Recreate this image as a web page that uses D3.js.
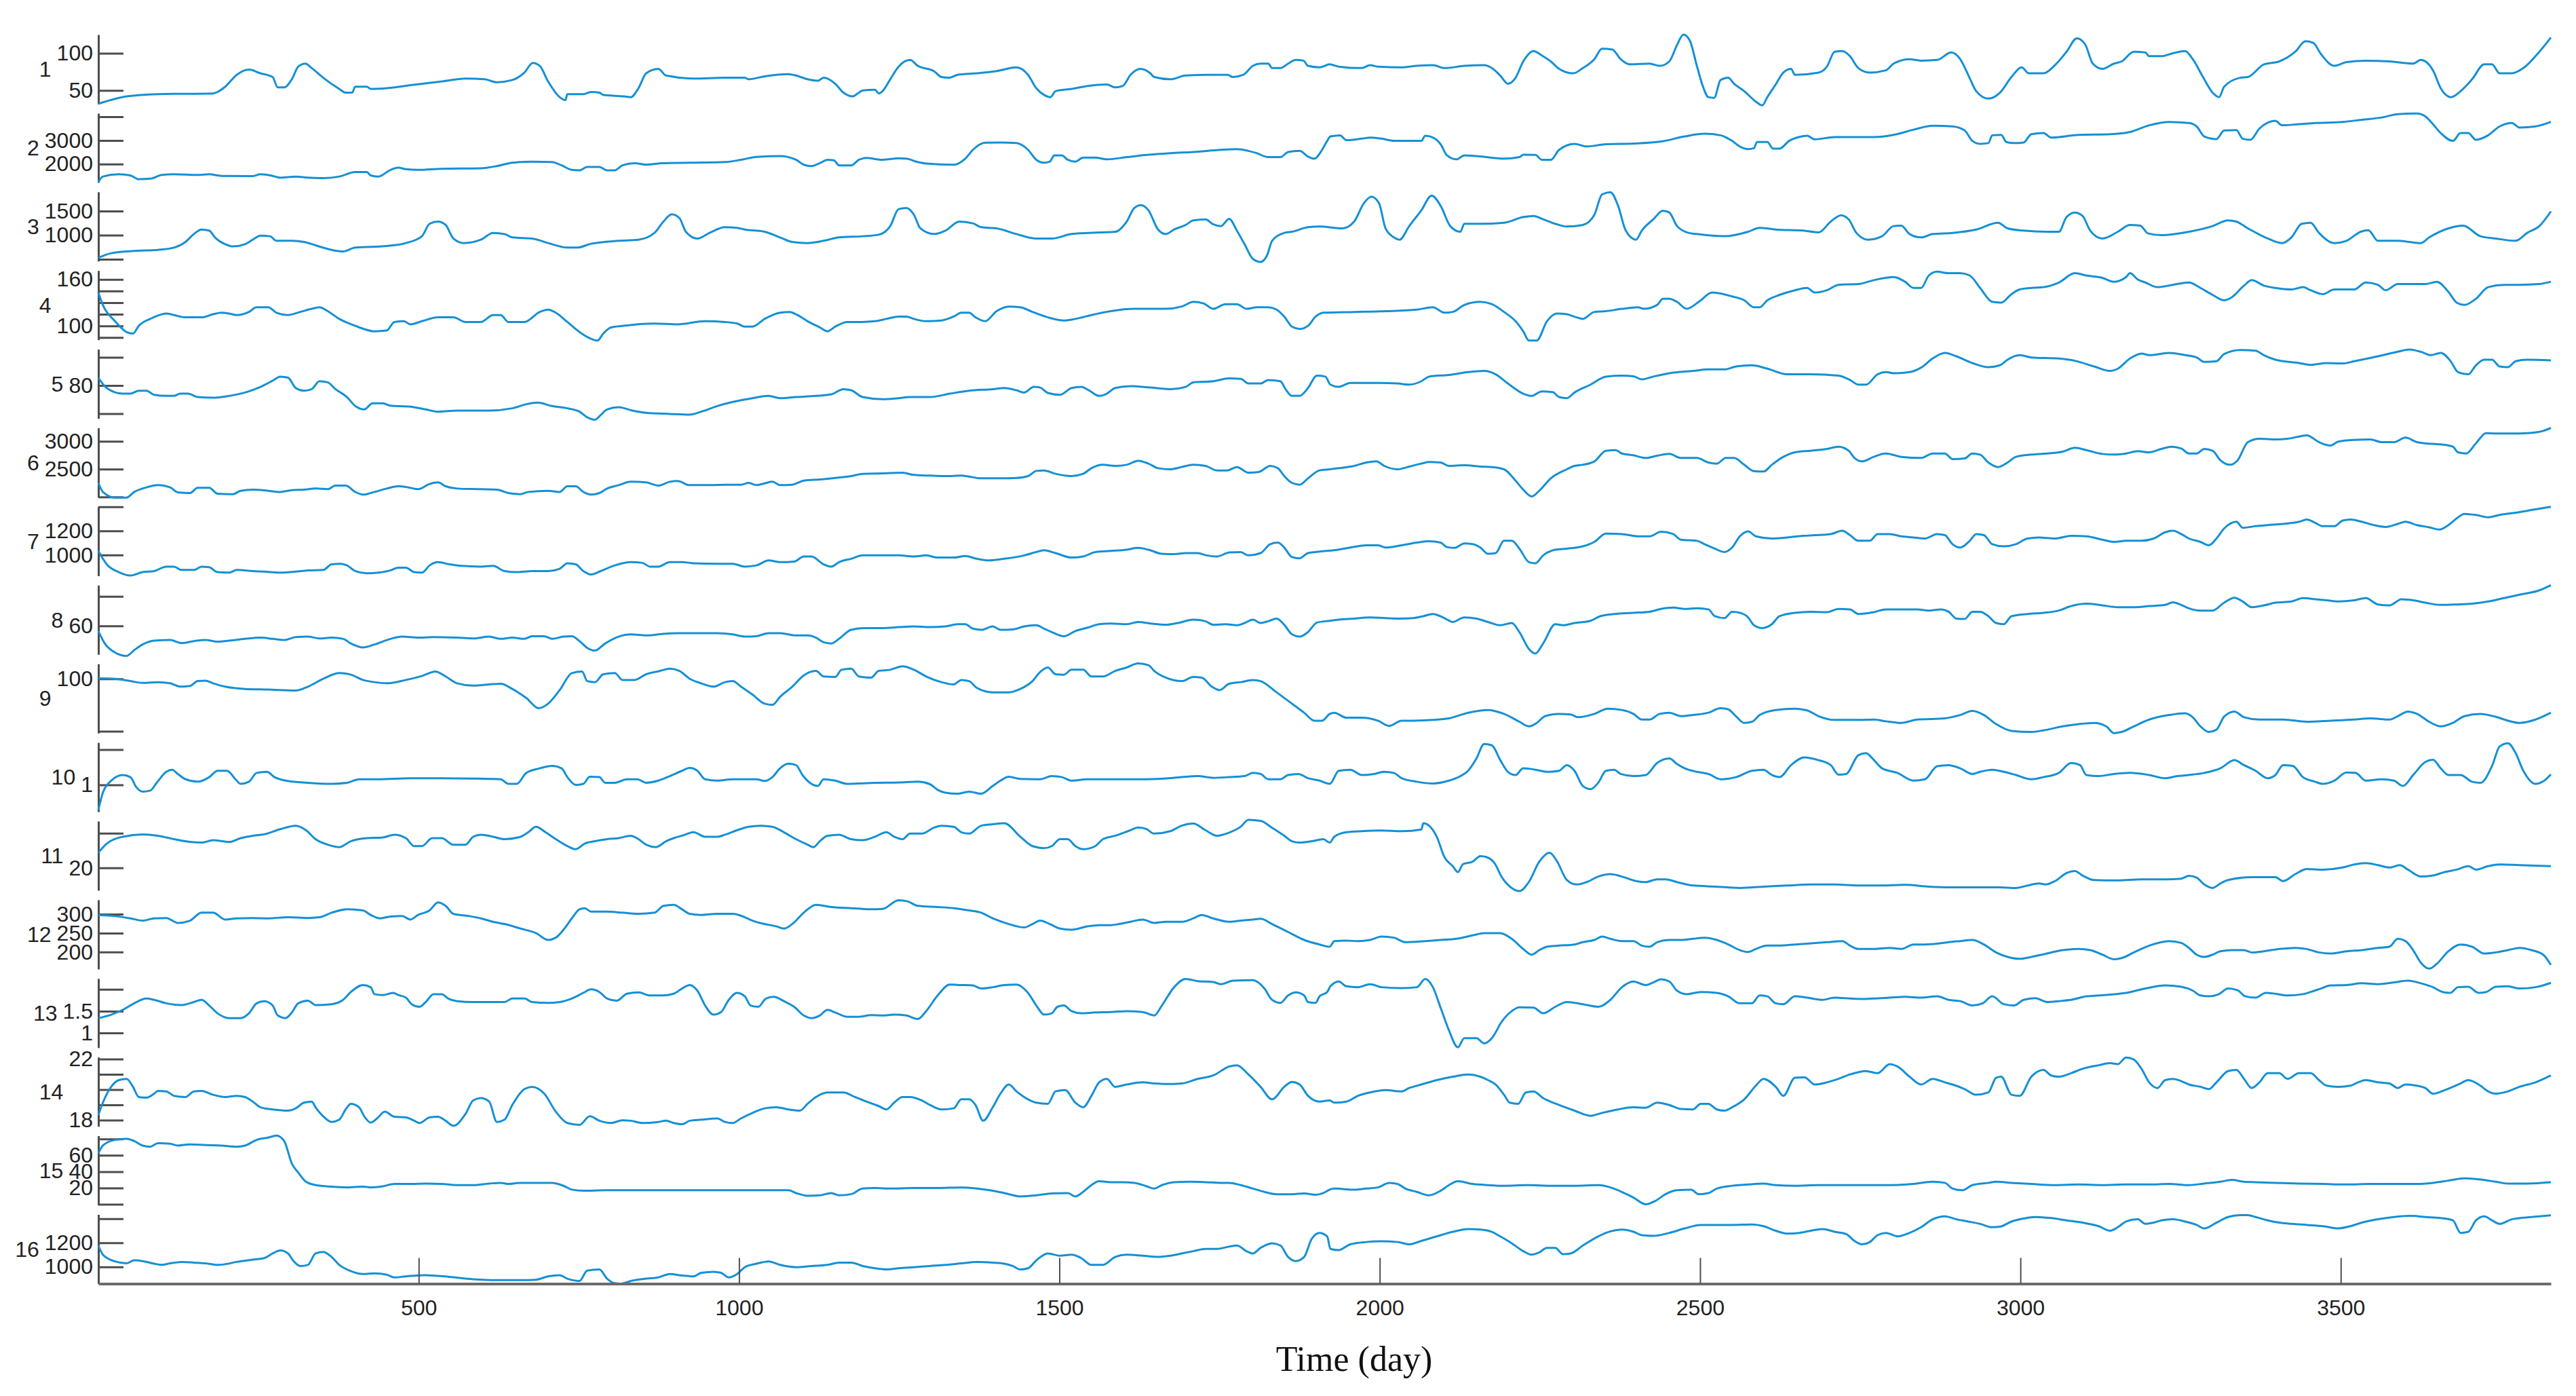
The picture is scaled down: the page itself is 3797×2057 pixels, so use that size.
<!DOCTYPE html>
<html>
<head>
<meta charset="utf-8">
<script src="https://cdn.jsdelivr.net/npm/d3@7"></script>
<style>
  body { margin: 0; background: #fff; }
  svg { display: block; }
</style>
</head>
<body>
<svg id="chart"></svg>
<script>
// 16 stacked daily series, each [day, value]
const s1 = [[0,32],[44,42],[93,45],[179,46],[186,48],[198,55],[216,71],[235,78],[253,73],[272,68],[280,54],[290,54],[302,65],[312,82],[323,86],[333,80],[351,67],[376,52],[386,47],[396,47],[401,55],[419,55],[425,52],[450,53],[487,57],[536,62],[573,66],[603,65],[622,61],[646,64],[665,74],[678,87],[689,83],[702,62],[720,41],[729,37],[732,45],[757,45],[769,48],[782,47],[788,44],[821,42],[831,41],[843,53],[855,73],[874,79],[886,70],[929,66],[978,67],[1009,67],[1015,65],[1040,69],[1077,72],[1089,70],[1107,65],[1123,63],[1132,67],[1150,59],[1163,47],[1177,42],[1187,47],[1193,50],[1212,51],[1218,46],[1224,49],[1236,65],[1249,82],[1267,91],[1279,83],[1304,76],[1316,68],[1328,67],[1341,71],[1371,73],[1402,76],[1433,81],[1451,71],[1464,53],[1476,44],[1486,41],[1494,49],[1519,52],[1544,56],[1574,58],[1587,54],[1599,56],[1611,71],[1627,79],[1642,73],[1648,68],[1673,65],[1697,70],[1740,71],[1762,71],[1771,68],[1787,71],[1802,83],[1814,86],[1826,86],[1832,80],[1845,80],[1857,86],[1869,91],[1881,90],[1888,83],[1906,81],[1922,85],
  [1936,82],[1972,80],[1985,84],[1997,82],[2034,81],[2058,83],[2083,84],[2101,80],[2132,83],[2163,84],[2175,80],[2188,70],[2200,59],[2212,67],[2224,89],[2240,103],[2253,97],[2267,89],[2280,79],[2302,73],[2317,80],[2335,92],[2347,106],[2363,105],[2376,92],[2390,85],[2421,86],[2437,83],[2452,89],[2464,111],[2474,125],[2484,117],[2495,83],[2503,59],[2513,41],[2522,40],[2532,64],[2544,67],[2553,59],[2569,49],[2587,35],[2597,30],[2605,41],[2618,58],[2630,74],[2642,79],[2648,71],[2685,74],[2698,82],[2710,102],[2722,103],[2734,96],[2747,80],[2765,74],[2790,77],[2802,86],[2827,92],[2845,90],[2870,91],[2892,101],[2906,92],[2919,70],[2931,49],[2950,39],[2968,47],[2986,68],[3002,81],[3013,73],[3036,73],[3054,84],[3072,102],[3088,120],[3101,112],[3113,86],[3128,79],[3146,86],[3158,89],[3177,102],[3195,101],[3201,96],[3220,96],[3238,100],[3257,103],[3269,92],[3285,68],[3300,47],[3310,41],[3318,55],[3343,67],[3355,68],[3380,85],[3404,89],[3429,102],[3445,116],[3457,114],[3469,99],[3490,83],[3509,88],[3539,90],[3576,89],[3613,86],[3625,91],[3644,77],[3656,53],[3672,41],[3687,49],[3705,65],[3724,85],[3736,85],[3748,73],[3767,73],[3785,80],[3810,102],[3828,121]];

const s2 = [[0,1237],[7,1472],[32,1567],[50,1520],[63,1359],[81,1380],[99,1538],[118,1567],[155,1538],[173,1567],[192,1500],[241,1490],[253,1567],[272,1500],[284,1425],[308,1472],[327,1425],[351,1406],[376,1472],[401,1661],[419,1661],[425,1520],[437,1472],[456,1755],[468,1849],[480,1783],[499,1755],[536,1802],[597,1821],[622,1915],[646,2057],[677,2104],[708,2085],[723,1944],[739,1755],[751,1736],[763,1878],[782,1878],[794,1736],[806,1736],[818,1944],[837,2038],[855,1972],[880,2038],[929,2057],[978,2085],[1003,2180],[1027,2302],[1064,2340],[1089,2180],[1101,1972],[1113,1915],[1126,2038],[1138,2180],[1148,2161],[1156,1944],[1175,1944],[1187,2180],[1199,2255],[1224,2180],[1249,2246],[1261,2227],[1279,2085],[1292,2019],[1335,1972],[1353,2227],[1365,2604],[1384,2906],[1408,2915],[1433,2887],[1451,2604],[1464,2180],[1476,2057],[1485,2104],[1492,2368],[1504,2368],[1513,2180],[1525,2104],[1537,2274],[1556,2274],[1574,2199],[1605,2293],[1636,2387],[1673,2462],[1709,2510],[1752,2604],[1777,2632],[1795,2557],[1808,2462],[1826,2293],[1845,2293],[1857,2510],[1875,2557],[1888,2321],[1898,2227],[1910,2604],[1918,2981],
  [1923,3170],[1938,3217],[1948,3009],[1972,3075],[1985,3123],[2003,3075],[2022,2981],[2065,2981],[2071,3198],[2083,3123],[2095,2840],[2105,2368],[2120,2198],[2132,2368],[2157,2321],[2194,2227],[2218,2293],[2224,2396],[2243,2387],[2253,2180],[2267,2180],[2280,2604],[2304,2858],[2323,2745],[2353,2840],[2396,2868],[2439,2953],[2476,3170],[2507,3283],[2532,3217],[2550,2981],[2562,2745],[2575,2632],[2584,2670],[2589,2934],[2605,2934],[2614,2651],[2624,2651],[2639,2981],[2655,3151],[2667,3198],[2679,3047],[2710,3142],[2771,3142],[2802,3236],[2833,3453],[2863,3623],[2894,3594],[2913,3424],[2925,2981],[2937,2858],[2950,2887],[2956,3217],[2970,3236],[2978,2934],[2990,2887],[3005,2915],[3017,3264],[3036,3311],[3048,3123],[3091,3236],[3140,3264],[3171,3358],[3201,3641],[3232,3783],[3263,3736],[3275,3594],[3287,3170],[3306,3057],[3318,3424],[3337,3434],[3347,3075],[3359,3028],[3373,3500],[3398,3830],[3408,3641],[3435,3688],[3460,3736],[3503,3783],[3533,3877],[3564,3971],[3589,4113],[3619,4141],[3632,4019],[3644,3688],[3656,3311],[3675,2981],[3687,3311],[3699,3311],[3711,3028],[3730,3217],[3748,3594],[3767,3736],[3779,3547],[3804,3594],[3828,3783]];

const s3 = [[0,531],[20,625],[56,672],[93,695],[118,742],[136,859],[149,1023],[161,1117],[173,1094],[182,953],[198,812],[210,766],[229,812],[241,906],[253,991],[268,977],[278,883],[302,883],[321,859],[339,789],[364,695],[382,662],[401,742],[450,775],[480,836],[505,977],[517,1235],[530,1281],[542,1211],[554,930],[570,836],[597,906],[616,1047],[634,1023],[646,953],[677,930],[702,836],[732,742],[747,742],[769,822],[812,883],[843,906],[868,1047],[882,1281],[895,1431],[907,1352],[917,1070],[935,930],[954,1047],[978,1164],[997,1150],[1009,1117],[1040,1070],[1064,953],[1083,859],[1107,836],[1132,883],[1156,953],[1193,977],[1218,1009],[1236,1188],[1249,1539],[1261,1563],[1273,1422],[1283,1141],[1304,1023],[1322,1094],[1344,1281],[1365,1244],[1378,1164],[1402,1141],[1433,1023],[1464,930],[1488,930],[1519,1023],[1562,1056],[1587,1070],[1605,1281],[1617,1563],[1627,1624],[1639,1516],[1654,1117],[1666,1023],[1679,1117],[1697,1211],[1709,1305],[1728,1328],[1740,1225],[1752,1188],[1765,1338],[1777,1094],[1789,812],[1802,508],[1814,445],[1824,578],[1832,883],[1851,1047],[1863,1070],[1888,1164],[1906,1178],
  [1942,1141],[1960,1281],[1975,1657],[1987,1797],[1999,1657],[2009,1141],[2022,953],[2031,906],[2046,1188],[2065,1516],[2081,1821],[2095,1610],[2110,1188],[2126,1070],[2132,1235],[2157,1235],[2194,1258],[2224,1375],[2240,1399],[2255,1328],[2274,1235],[2292,1178],[2317,1211],[2335,1422],[2347,1844],[2360,1891],[2372,1610],[2384,1094],[2400,906],[2409,1094],[2427,1328],[2442,1507],[2452,1469],[2464,1188],[2482,1047],[2495,1023],[2538,977],[2575,1070],[2593,1150],[2618,1117],[2661,1094],[2685,1056],[2704,1281],[2720,1413],[2732,1328],[2744,1047],[2762,906],[2784,977],[2802,1188],[2814,1197],[2827,1023],[2845,953],[2863,1023],[2894,1047],[2931,1117],[2965,1258],[2980,1141],[3005,1094],[3042,1070],[3060,1070],[3072,1375],[3085,1469],[3097,1399],[3109,1094],[3128,930],[3152,1070],[3171,1211],[3187,1197],[3199,1037],[3220,1000],[3263,1070],[3300,1188],[3324,1305],[3337,1281],[3355,1141],[3386,930],[3408,836],[3423,953],[3439,1235],[3453,1258],[3466,1047],[3490,836],[3509,883],[3531,1070],[3543,1103],[3558,883],[3589,883],[3607,859],[3625,836],[3638,953],[3668,1141],[3691,1197],[3718,977],[3742,930],[3773,883],[3791,1047],[3810,1188],[3828,1492]];

const s4 = [[0,143],[7,127],[26,106],[44,92],[54,90],[63,100],[81,109],[106,116],[118,114],[136,111],[161,111],[179,115],[192,117],[204,116],[216,114],[235,118],[247,124],[265,124],[278,117],[296,114],[315,118],[333,122],[345,124],[358,119],[376,109],[401,100],[431,93],[450,94],[462,105],[477,106],[487,102],[505,106],[530,111],[554,111],[573,105],[597,105],[616,114],[628,114],[640,105],[665,105],[689,118],[702,121],[714,117],[732,105],[751,92],[767,84],[779,81],[788,90],[800,98],[818,100],[868,103],[904,102],[947,106],[978,105],[997,103],[1009,99],[1021,99],[1040,109],[1064,117],[1079,118],[1091,114],[1107,106],[1126,98],[1138,93],[1150,99],[1169,105],[1187,105],[1212,106],[1230,109],[1249,112],[1261,112],[1273,109],[1292,106],[1316,107],[1335,112],[1347,117],[1359,117],[1369,111],[1384,106],[1402,119],[1421,125],[1439,124],[1458,118],[1482,111],[1507,107],[1525,109],[1550,114],[1580,119],[1617,122],[1666,122],[1691,125],[1709,131],[1725,129],[1740,122],[1759,128],[1777,128],[1792,122],[1808,124],[1826,124],[1839,121],[1851,112],[1863,99],[1875,96],[1888,100],[1900,112],[1912,117],
  [1960,118],[2009,119],[2058,121],[2083,124],[2101,117],[2114,118],[2132,127],[2157,131],[2175,128],[2194,118],[2212,106],[2224,93],[2233,81],[2245,81],[2261,106],[2277,116],[2292,115],[2307,111],[2317,109],[2335,118],[2353,119],[2378,122],[2403,124],[2412,122],[2433,127],[2442,135],[2452,135],[2464,131],[2479,122],[2498,131],[2519,143],[2550,138],[2569,133],[2584,124],[2593,124],[2605,133],[2624,140],[2648,146],[2667,149],[2679,143],[2698,146],[2716,153],[2747,154],[2771,159],[2802,163],[2820,157],[2833,149],[2845,149],[2857,165],[2870,170],[2888,168],[2906,168],[2921,165],[2937,149],[2956,131],[2970,130],[2986,141],[2999,147],[3017,149],[3036,150],[3060,156],[3085,168],[3103,165],[3128,162],[3146,157],[3165,163],[3171,168],[3183,160],[3195,156],[3214,150],[3238,153],[3263,156],[3281,149],[3300,140],[3318,133],[3330,137],[3349,152],[3361,159],[3380,152],[3398,149],[3423,147],[3441,150],[3453,146],[3472,141],[3490,147],[3521,147],[3539,156],[3558,153],[3570,146],[3589,154],[3613,154],[3632,154],[3650,157],[3668,144],[3681,130],[3693,127],[3711,135],[3730,150],[3755,153],[3779,153],[3810,154],[3828,157]];

const s5 = [[0,85.5],[13,78.2],[38,74.2],[50,74.2],[63,76.3],[75,76.3],[87,73.4],[106,72.6],[118,72.6],[128,74.2],[140,74.2],[155,71.8],[179,71.3],[204,72.6],[229,75],[253,79],[272,83.4],[284,86.3],[296,85.5],[308,78.2],[321,76.3],[333,77.4],[345,83],[358,82.2],[370,77.4],[388,71.8],[401,65.4],[415,63],[428,67.3],[444,67.3],[456,65.7],[487,65],[511,63],[530,61.4],[560,62.2],[610,62.2],[646,63.8],[668,66.7],[686,67.8],[708,65.4],[732,63.8],[751,61.4],[763,57.4],[775,55.7],[784,59],[794,63],[812,64.6],[831,62.5],[855,60.6],[892,59.8],[923,59.3],[941,61.4],[966,65.4],[990,68.3],[1021,71],[1046,72.6],[1064,71],[1089,71.8],[1120,72.6],[1144,73.7],[1163,77.4],[1175,76.6],[1193,71.8],[1224,70.2],[1249,71],[1267,71.8],[1298,71.8],[1329,74.2],[1359,76.3],[1396,77.4],[1414,78.2],[1433,76.6],[1445,75],[1460,79],[1470,78.5],[1482,74.7],[1501,73.4],[1519,78.2],[1534,79],[1546,76.6],[1562,72.6],[1574,74.2],[1587,78.2],[1611,79.5],[1642,78.5],[1673,77.4],[1697,79],[1709,82.2],[1740,83],[1765,85],[1783,84.7],[1795,81.4],[1814,81.4],[1826,83.9],[1845,83],[1853,77.4],[1863,72.6],[1875,72.6],[1888,78.2],[1902,87],[1915,86.3],
  [1923,80.6],[1936,79],[1954,81.8],[1985,81.8],[2028,81.4],[2046,80.6],[2065,83],[2077,86.3],[2108,87.5],[2138,89.5],[2163,90.3],[2181,87.9],[2200,81.4],[2224,74.2],[2237,72.6],[2253,75.8],[2270,75.3],[2280,71.8],[2292,71],[2304,75],[2329,80.6],[2353,86.3],[2378,87],[2396,86.5],[2409,84.3],[2427,86.3],[2452,88.7],[2489,90.3],[2513,91.4],[2538,91.4],[2556,93.5],[2581,94.3],[2605,91.9],[2636,87.9],[2673,87.9],[2716,87],[2734,83.9],[2747,80.6],[2759,80.6],[2777,87.9],[2790,89.5],[2802,88.7],[2827,89.5],[2845,92.7],[2863,99.1],[2882,103.1],[2900,100.7],[2925,95.9],[2950,93],[2968,94.3],[2980,98.3],[2999,101.5],[3017,99.9],[3060,99.1],[3085,97.5],[3115,93.5],[3140,90.3],[3152,91.9],[3171,99.1],[3189,102.6],[3201,101.5],[3232,103.1],[3257,101.5],[3275,99.9],[3287,96.7],[3306,97.2],[3318,102.3],[3343,105.2],[3367,104.7],[3380,101.5],[3398,98.3],[3435,95.9],[3453,94.6],[3478,95.9],[3503,95.6],[3521,97.2],[3558,100.7],[3589,103.9],[3607,105.5],[3625,103.9],[3641,101.5],[3656,103.1],[3671,97.5],[3683,89.5],[3699,87.9],[3711,94.3],[3724,98.3],[3736,98.3],[3748,93.5],[3761,93],[3773,97.2],[3791,98.3],[3828,97.8]];

const s6 = [[0,2252],[7,2089],[26,1988],[44,1988],[56,2089],[75,2171],[93,2211],[112,2171],[124,2081],[143,2069],[155,2163],[173,2163],[186,2057],[210,2049],[222,2110],[241,2130],[265,2110],[284,2089],[302,2122],[321,2130],[339,2150],[358,2138],[370,2203],[386,2203],[401,2089],[413,2041],[431,2089],[450,2150],[468,2191],[484,2171],[499,2138],[517,2232],[530,2260],[542,2191],[560,2150],[597,2138],[622,2130],[640,2069],[659,2049],[671,2089],[702,2110],[720,2089],[732,2191],[745,2191],[757,2089],[769,2041],[782,2069],[794,2150],[812,2211],[831,2272],[855,2260],[874,2203],[892,2272],[904,2285],[923,2211],[954,2211],[978,2220],[1003,2220],[1015,2252],[1027,2211],[1040,2244],[1052,2272],[1064,2211],[1083,2220],[1101,2293],[1126,2313],[1150,2341],[1175,2374],[1193,2415],[1224,2423],[1255,2435],[1273,2394],[1298,2382],[1322,2374],[1347,2382],[1359,2366],[1378,2333],[1408,2333],[1433,2341],[1451,2374],[1464,2467],[1476,2476],[1494,2415],[1519,2374],[1537,2415],[1550,2516],[1568,2577],[1587,2557],[1605,2577],[1623,2650],[1639,2598],[1654,2516],[1673,2496],[1691,2537],[1709,2577],[1728,2557],[1746,2476],[1762,2476],[1777,2537],[1795,2435],[1811,2447],[1829,2557],[1841,2516],[1851,2374],[1863,2252],[1875,2220],[1888,2333],[1906,2476],[1922,2496],
  [1936,2516],[1960,2557],[1979,2618],[1995,2638],[2007,2557],[2028,2496],[2046,2545],[2065,2598],[2077,2626],[2095,2618],[2108,2557],[2132,2569],[2157,2545],[2175,2537],[2194,2496],[2212,2293],[2224,2130],[2237,2008],[2249,2110],[2267,2333],[2292,2496],[2304,2557],[2317,2577],[2335,2638],[2353,2829],[2368,2841],[2378,2780],[2396,2748],[2415,2699],[2433,2740],[2452,2772],[2470,2699],[2495,2699],[2513,2618],[2526,2598],[2540,2699],[2553,2699],[2569,2577],[2584,2463],[2599,2455],[2612,2577],[2630,2720],[2648,2801],[2673,2829],[2698,2862],[2716,2903],[2732,2829],[2741,2699],[2753,2638],[2771,2720],[2790,2780],[2814,2720],[2845,2699],[2863,2780],[2882,2780],[2894,2679],[2913,2691],[2925,2780],[2937,2760],[2950,2618],[2965,2537],[2980,2618],[2993,2720],[3017,2760],[3042,2780],[3066,2813],[3085,2882],[3103,2841],[3128,2772],[3146,2760],[3165,2780],[3183,2821],[3201,2801],[3220,2862],[3236,2902],[3251,2870],[3263,2780],[3275,2780],[3287,2862],[3300,2829],[3312,2659],[3327,2577],[3339,2659],[3355,2984],[3373,3045],[3398,3033],[3417,3045],[3435,3085],[3447,3106],[3466,2984],[3484,2923],[3496,2992],[3521,3024],[3546,3033],[3564,2984],[3583,2984],[3601,3065],[3619,2984],[3632,2963],[3656,2943],[3675,2902],[3683,2801],[3696,2780],[3711,2963],[3727,3146],[3742,3138],[3767,3138],[3791,3146],[3816,3187],[3828,3240]];

const s7 = [[0,1034],[13,923],[32,858],[50,830],[69,858],[87,867],[106,904],[118,904],[130,876],[149,876],[161,904],[173,899],[186,858],[204,854],[216,876],[241,867],[259,862],[284,854],[308,862],[327,873],[351,876],[364,923],[378,928],[388,914],[401,867],[419,848],[437,854],[456,873],[468,895],[480,895],[493,858],[505,854],[517,914],[530,941],[548,923],[567,910],[597,904],[616,910],[634,867],[653,858],[677,867],[702,867],[720,886],[732,932],[745,923],[757,867],[769,839],[784,867],[806,914],[831,941],[849,935],[861,904],[874,904],[892,941],[911,941],[929,932],[966,928],[990,928],[1009,904],[1027,914],[1046,955],[1064,941],[1086,946],[1101,988],[1113,988],[1132,923],[1144,904],[1156,941],[1175,969],[1193,997],[1218,997],[1249,997],[1273,988],[1292,997],[1310,979],[1335,979],[1353,992],[1371,969],[1390,955],[1414,969],[1445,997],[1464,1025],[1476,1040],[1494,1016],[1519,979],[1537,988],[1556,1025],[1580,1034],[1605,1044],[1623,1059],[1639,1044],[1660,1010],[1679,1007],[1697,1016],[1716,1016],[1730,997],[1746,988],[1765,1021],[1783,1025],[1795,997],[1814,1016],[1829,1090],[1841,1103],[1851,1062],[1863,983],[1875,973],[1888,1016],[1906,1029],
  [1929,1040],[1954,1062],[1979,1081],[1997,1081],[2009,1062],[2034,1081],[2058,1103],[2077,1114],[2095,1103],[2105,1066],[2117,1059],[2132,1096],[2145,1090],[2157,1062],[2169,1010],[2181,1016],[2194,1118],[2206,1118],[2218,1053],[2233,941],[2243,932],[2255,997],[2274,1044],[2292,1053],[2317,1072],[2335,1109],[2353,1178],[2378,1174],[2403,1155],[2421,1155],[2439,1193],[2458,1174],[2470,1127],[2495,1118],[2507,1090],[2523,1053],[2538,1025],[2550,1062],[2562,1155],[2575,1196],[2587,1155],[2612,1137],[2636,1146],[2661,1159],[2679,1165],[2704,1174],[2722,1202],[2734,1165],[2747,1118],[2765,1118],[2777,1174],[2796,1174],[2814,1155],[2833,1146],[2851,1137],[2870,1174],[2882,1165],[2894,1090],[2906,1062],[2921,1118],[2931,1174],[2943,1165],[2956,1090],[2974,1072],[2993,1090],[3011,1137],[3029,1146],[3054,1137],[3079,1159],[3103,1155],[3128,1127],[3146,1109],[3165,1118],[3189,1118],[3208,1137],[3226,1189],[3238,1202],[3251,1174],[3263,1137],[3281,1109],[3294,1081],[3306,1137],[3318,1220],[3337,1276],[3347,1226],[3367,1239],[3386,1248],[3410,1258],[3435,1276],[3447,1295],[3460,1267],[3472,1239],[3490,1239],[3503,1286],[3515,1295],[3533,1276],[3552,1248],[3570,1233],[3589,1258],[3601,1276],[3619,1248],[3638,1230],[3654,1211],[3668,1248],[3681,1304],[3693,1341],[3711,1332],[3730,1313],[3748,1332],[3773,1351],[3804,1379],[3828,1400]];

const s8 = [[0,56.6],[10,48.2],[26,42.1],[44,39.8],[56,43.7],[69,47.5],[87,50.1],[112,50.5],[130,48.5],[149,49.8],[167,50.5],[186,49.4],[204,50.1],[229,51.3],[253,52.1],[272,51.3],[290,50.5],[308,52.5],[327,52.8],[345,51.6],[364,52.1],[382,51.3],[394,48.2],[413,45.5],[431,47.5],[456,51.3],[474,52.8],[499,52.1],[523,52.5],[560,52.1],[585,51.6],[610,52.8],[628,51.3],[646,52.1],[665,51.3],[677,53.1],[696,53.1],[708,51.3],[726,52.8],[739,53.1],[751,49.8],[763,45.2],[775,43.4],[791,48.2],[812,52.8],[831,54.3],[855,53.6],[880,54.6],[904,55.1],[935,55.1],[966,55.1],[990,54.3],[1009,52.8],[1027,53.1],[1046,55.1],[1064,55.1],[1077,54.3],[1089,53.6],[1107,53.6],[1120,52.1],[1132,49],[1144,48.2],[1156,51.3],[1175,57.4],[1199,58.6],[1224,58.6],[1249,59.2],[1273,59.7],[1298,59.2],[1322,59.7],[1341,61.2],[1353,61.2],[1365,58.2],[1378,57.4],[1396,59.7],[1408,57.4],[1427,57.7],[1445,59.7],[1464,60.5],[1476,58.2],[1488,55.9],[1507,53.1],[1525,56.6],[1544,58.9],[1562,61.2],[1580,61.7],[1605,61.2],[1623,62.7],[1642,61.7],[1666,60.8],[1685,62],[1709,64.3],[1728,63.2],[1740,60.8],[1759,61.2],[1777,60.5],[1789,62],[1802,64.3],[1814,62],[1826,63.2],[1839,65],[1851,60.8],[1863,54.3],[1875,52.8],[1888,55.9],[1902,62.3],[1922,63.5],
  [1936,64.3],[1960,65],[1985,65.8],[2009,65.3],[2034,65],[2052,65.3],[2068,66.6],[2083,68.1],[2101,65.3],[2114,62.7],[2132,65.8],[2151,65],[2169,62.7],[2188,60.5],[2206,62],[2218,55.9],[2233,44.4],[2243,41.4],[2255,48.2],[2274,61.2],[2286,60.5],[2304,62],[2329,63.5],[2344,66.6],[2366,68.1],[2396,68.9],[2421,69.6],[2439,71.5],[2458,72.4],[2476,71.5],[2495,72],[2513,71.2],[2523,66.6],[2538,65.3],[2550,69.6],[2562,68.9],[2575,65.8],[2584,60.5],[2597,58.6],[2612,61.2],[2624,66.6],[2648,68.9],[2673,69.6],[2698,69.3],[2716,71.5],[2734,71.2],[2747,68.1],[2771,69.3],[2790,71.2],[2814,71.2],[2839,71.2],[2857,70.4],[2876,71.2],[2888,69.6],[2900,65],[2913,64.7],[2925,69.6],[2937,69.6],[2950,66.6],[2962,62],[2974,61.2],[2986,66.6],[3011,68.1],[3036,68.9],[3060,70.4],[3079,73.4],[3103,75],[3128,73.9],[3152,72.7],[3177,72.7],[3201,73.4],[3226,74.2],[3238,76],[3251,74.2],[3263,71.9],[3281,70.4],[3300,70.4],[3318,75.7],[3334,79.1],[3347,76.5],[3361,72.7],[3380,73.9],[3398,75.7],[3423,76.5],[3441,78.8],[3460,78],[3478,77.3],[3496,76.5],[3521,77.3],[3539,78.8],[3558,74.5],[3576,73.9],[3595,78],[3613,77.3],[3632,75.7],[3656,74.2],[3681,74.5],[3705,75],[3730,76.5],[3755,78.8],[3779,81.1],[3810,84.1],[3828,87.5]];

const s9 = [[0,100.4],[26,100],[50,97.8],[69,96.1],[93,96.8],[112,95.7],[128,92.5],[143,93.1],[155,97.8],[167,98.2],[179,95.7],[198,92.5],[229,90.3],[265,89.7],[308,88.8],[327,92.5],[351,100],[376,105.4],[394,103.9],[413,98.9],[431,96.8],[450,95.7],[480,98.9],[505,102.6],[526,106.9],[542,102.2],[560,95.7],[585,93.5],[610,94.6],[628,95.3],[646,90.3],[668,81.7],[687,72],[702,76.3],[720,89.2],[739,105.4],[755,106.9],[763,97.8],[775,96.8],[788,104.3],[806,105.4],[818,98.9],[837,98.9],[855,104.3],[877,107.5],[892,109.7],[907,107.5],[923,100],[941,95.7],[960,92.5],[978,96.8],[990,97.8],[1003,92.5],[1021,84.9],[1040,76.3],[1052,75.2],[1064,82.8],[1083,92.5],[1101,103.2],[1120,107.5],[1132,102.2],[1150,101.7],[1160,108.6],[1175,109.7],[1187,102.2],[1206,101.1],[1218,107.5],[1236,108.6],[1255,111.9],[1273,108.6],[1292,102.2],[1316,96.8],[1335,94.6],[1347,98.9],[1359,97.8],[1371,91.4],[1396,87.1],[1421,87.1],[1439,90.3],[1458,97.8],[1470,106.5],[1482,110.8],[1494,104.3],[1507,103.9],[1519,108.6],[1537,108.6],[1550,102.2],[1568,102.2],[1587,107.5],[1605,110.8],[1623,114.7],[1639,113],[1648,107.5],[1666,101.1],[1691,97.8],[1709,101.7],[1722,101.1],[1738,92.5],[1750,89.2],[1765,95.3],[1783,96.8],[1802,98.9],[1814,97.8],[1839,87.1],[1863,76.3],[1882,67.7],[1898,60.1],[1910,60.1],[1922,66.6],
  [1929,67.7],[1948,62.9],[1972,62.9],[1997,60.1],[2015,55.2],[2034,60.1],[2052,60.1],[2083,60.8],[2108,62.3],[2138,67.7],[2169,70.3],[2194,66.6],[2218,59.1],[2233,54.7],[2245,57.9],[2258,64.4],[2280,66.6],[2298,66],[2310,63.4],[2335,66.6],[2356,71.6],[2378,70.3],[2396,66.6],[2409,61.2],[2421,61.2],[2437,66.6],[2452,67.7],[2470,64.4],[2489,65.5],[2513,67.7],[2532,72],[2544,70.9],[2556,64.4],[2569,58],[2581,59.1],[2593,65.5],[2618,70.3],[2648,71.6],[2667,69.9],[2685,64.4],[2710,60.8],[2747,60.8],[2771,61.2],[2790,59.5],[2814,58],[2839,61.2],[2882,62.3],[2906,65.5],[2925,69.4],[2943,65.5],[2962,56.9],[2986,50.4],[3017,49.4],[3036,50.9],[3066,54.7],[3091,56.9],[3115,58],[3134,54.7],[3146,48.3],[3158,49.4],[3177,54.7],[3201,61.2],[3232,65.5],[3257,67.2],[3269,63.4],[3281,54.7],[3294,49.4],[3306,51.6],[3318,64],[3334,68.8],[3349,63.4],[3373,61.2],[3410,61.2],[3447,59.1],[3484,60.1],[3521,61.2],[3546,62.3],[3576,61.2],[3589,64.4],[3605,68.8],[3619,66.6],[3638,59.1],[3656,54.7],[3675,58],[3693,64.4],[3718,66.6],[3742,63.8],[3761,60.1],[3779,58],[3804,61.2],[3828,67.7]];

const s10 = [[0,0.29],[7,0.78],[20,1.12],[38,1.28],[50,1.22],[59,0.94],[69,0.81],[81,0.84],[91,1.06],[106,1.37],[115,1.43],[124,1.31],[136,1.16],[155,1.09],[173,1.22],[186,1.40],[201,1.40],[214,1.16],[222,1.03],[235,1.09],[247,1.34],[263,1.37],[275,1.22],[296,1.11],[327,1.06],[364,1.03],[388,1.06],[407,1.16],[437,1.16],[487,1.19],[536,1.19],[585,1.18],[610,1.17],[628,1.16],[640,1.03],[653,1.03],[668,1.34],[689,1.47],[708,1.54],[723,1.47],[732,1.22],[745,1.0],[757,1.03],[767,1.23],[782,1.22],[791,1.06],[806,1.06],[825,1.16],[841,1.16],[855,1.06],[874,1.12],[892,1.25],[911,1.40],[923,1.48],[935,1.40],[947,1.16],[966,1.12],[990,1.16],[1027,1.16],[1040,1.11],[1052,1.22],[1064,1.47],[1077,1.60],[1089,1.56],[1099,1.28],[1113,1.03],[1123,0.97],[1132,1.16],[1150,1.12],[1169,1.03],[1212,1.06],[1249,1.07],[1279,1.09],[1298,1.02],[1310,0.86],[1322,0.78],[1341,0.75],[1359,0.81],[1378,0.75],[1396,0.97],[1408,1.12],[1421,1.23],[1439,1.17],[1470,1.16],[1488,1.25],[1504,1.22],[1519,1.12],[1544,1.16],[1580,1.16],[1617,1.16],[1654,1.17],[1691,1.22],[1716,1.25],[1740,1.20],[1765,1.22],[1789,1.25],[1802,1.34],[1814,1.31],[1826,1.16],[1845,1.16],[1857,1.28],[1873,1.31],[1888,1.19],[1906,1.12],[1922,1.03],
  [1936,1.40],[1954,1.43],[1972,1.28],[1991,1.31],[2007,1.37],[2022,1.34],[2034,1.19],[2058,1.09],[2083,1.04],[2108,1.12],[2126,1.25],[2138,1.40],[2151,1.75],[2163,2.16],[2175,2.12],[2188,1.71],[2200,1.37],[2212,1.28],[2224,1.47],[2243,1.43],[2261,1.37],[2280,1.40],[2292,1.56],[2304,1.40],[2317,0.97],[2329,0.88],[2341,1.06],[2353,1.40],[2366,1.43],[2376,1.31],[2396,1.25],[2415,1.28],[2433,1.62],[2452,1.75],[2464,1.59],[2476,1.47],[2495,1.37],[2513,1.31],[2532,1.16],[2556,1.22],[2581,1.40],[2599,1.43],[2612,1.28],[2624,1.22],[2642,1.56],[2663,1.78],[2683,1.71],[2704,1.56],[2716,1.29],[2728,1.31],[2747,1.84],[2759,1.90],[2771,1.71],[2784,1.47],[2808,1.34],[2833,1.12],[2851,1.16],[2870,1.53],[2888,1.56],[2906,1.47],[2925,1.31],[2937,1.37],[2956,1.43],[2974,1.37],[2993,1.28],[3017,1.16],[3036,1.22],[3060,1.34],[3079,1.62],[3093,1.56],[3103,1.28],[3122,1.25],[3146,1.31],[3171,1.34],[3201,1.28],[3226,1.19],[3245,1.25],[3263,1.28],[3287,1.34],[3312,1.47],[3334,1.70],[3349,1.56],[3367,1.40],[3386,1.19],[3398,1.28],[3410,1.56],[3425,1.54],[3441,1.22],[3460,1.09],[3472,1.03],[3490,1.12],[3509,1.35],[3523,1.34],[3539,1.12],[3564,1.16],[3583,1.12],[3597,0.97],[3613,1.28],[3632,1.65],[3644,1.71],[3656,1.47],[3668,1.28],[3687,1.28],[3705,1.09],[3718,1.06],[3736,1.53],[3748,2.09],[3761,2.18],[3773,1.90],[3785,1.40],[3804,1.03],[3816,1.10],[3828,1.30]];

const s11 = [[0,24.4],[13,27],[38,29],[69,29.7],[93,29.3],[118,28.3],[143,27.5],[161,27.3],[179,28],[204,27.5],[222,28.6],[241,29.3],[259,29.7],[284,31.2],[308,32.2],[324,30.9],[339,28.3],[358,26.7],[376,26],[394,27.7],[419,28.6],[444,28.8],[462,29.6],[480,28.6],[493,26.3],[505,26.3],[521,28.6],[536,28.6],[554,26.7],[573,26.7],[585,29],[597,29.6],[616,29],[634,28.3],[659,29],[671,30.3],[683,31.9],[698,30.3],[714,28.3],[732,26.3],[745,25.4],[759,27],[775,27.7],[794,28.3],[812,28.6],[831,29.3],[843,28.3],[855,26.7],[870,26],[886,27.7],[898,28.6],[911,29.3],[929,30.3],[947,29],[966,29],[978,29.6],[997,30.9],[1015,31.9],[1034,32.2],[1052,31.9],[1070,30.3],[1089,28.3],[1107,26.7],[1116,26],[1126,27.7],[1138,29.3],[1156,29.6],[1175,28.3],[1193,28],[1212,29],[1230,30.3],[1242,29],[1255,28.3],[1267,29.9],[1285,29.9],[1304,31.6],[1316,32.2],[1335,31.9],[1347,30.3],[1359,29.9],[1378,32.2],[1396,32.6],[1414,32.9],[1439,29],[1458,26.3],[1476,25.7],[1488,26.3],[1501,28.3],[1513,28.3],[1525,26.3],[1537,25.4],[1556,26.3],[1568,28.3],[1587,29.3],[1611,30.9],[1623,31.7],[1636,31.2],[1648,29.9],[1673,30.6],[1691,32.2],[1709,32.8],[1728,30.9],[1746,29.3],[1765,30.2],[1783,31.9],[1795,33.9],[1814,33.6],[1832,31.6],[1851,29.3],[1863,27.7],[1875,27.3],[1894,27.7],[1912,28.3],[1922,27.3],
  [1929,29],[1948,30.3],[1972,30.6],[2003,30.8],[2034,30.6],[2065,31.1],[2068,32.9],[2077,32.2],[2089,29],[2101,23.1],[2114,20.5],[2122,18.8],[2130,21.1],[2145,21.8],[2157,23.4],[2167,23.1],[2179,21.4],[2191,17.2],[2206,14.2],[2218,13.3],[2233,16],[2249,21.8],[2265,24.4],[2277,21.8],[2292,16.5],[2307,15.2],[2323,15.9],[2341,17.5],[2360,18.2],[2378,17.5],[2400,16.2],[2415,15.9],[2433,16.7],[2446,16.7],[2464,15.9],[2489,14.9],[2526,14.6],[2562,14.2],[2599,14.6],[2636,14.9],[2673,15.2],[2710,15.2],[2747,14.9],[2784,14.9],[2820,15.1],[2857,14.6],[2894,14.4],[2931,14.4],[2968,14.4],[2993,14.2],[3011,14.9],[3029,15.5],[3039,15.2],[3054,16.2],[3072,18.5],[3085,19.1],[3097,17.8],[3115,16.5],[3152,16.4],[3189,16.7],[3226,16.7],[3251,16.9],[3263,17.7],[3275,17.2],[3287,15.2],[3300,14.2],[3312,15.5],[3324,16.5],[3361,17.3],[3398,17.3],[3410,16.2],[3429,18.2],[3447,19.7],[3472,19.5],[3503,20.1],[3521,21],[3539,21.4],[3558,20.8],[3576,20.1],[3592,20.8],[3605,19.5],[3625,17.5],[3644,17.8],[3662,18.8],[3681,19.5],[3699,20.5],[3711,19.5],[3730,20.5],[3748,21],[3779,20.8],[3810,20.6],[3828,20.5]];

const s12 = [[0,298],[26,295],[50,289],[69,283],[87,289],[106,290],[124,277],[143,283],[161,304],[179,304],[198,286],[216,289],[241,290],[265,289],[296,292],[327,290],[345,292],[364,304],[388,313],[413,310],[425,298],[440,289],[456,294],[474,295],[487,286],[499,298],[517,310],[530,331],[542,322],[554,301],[579,295],[597,289],[616,280],[634,274],[659,262],[683,250],[702,232],[714,238],[726,259],[739,289],[751,313],[759,316],[769,307],[794,307],[818,304],[843,301],[868,304],[882,322],[898,325],[911,313],[923,301],[941,298],[966,301],[990,301],[1009,292],[1021,283],[1040,274],[1058,268],[1070,262],[1083,274],[1101,304],[1120,325],[1144,319],[1175,316],[1206,313],[1224,314],[1249,337],[1263,334],[1279,322],[1310,319],[1335,316],[1359,310],[1378,304],[1396,289],[1421,274],[1445,265],[1458,274],[1470,283],[1485,274],[1501,262],[1519,259],[1544,268],[1562,271],[1580,271],[1593,274],[1611,280],[1630,286],[1648,277],[1666,280],[1691,280],[1709,289],[1722,298],[1740,289],[1765,280],[1783,283],[1802,286],[1814,288],[1832,274],[1857,253],[1882,232],[1906,220],[1922,214],
  [1929,229],[1948,230],[1966,229],[1985,232],[2003,241],[2022,238],[2040,226],[2071,229],[2095,232],[2120,235],[2145,244],[2163,250],[2188,250],[2206,235],[2224,208],[2237,193],[2249,205],[2261,214],[2280,217],[2304,220],[2317,226],[2335,232],[2347,241],[2360,235],[2378,229],[2396,229],[2409,217],[2421,214],[2433,226],[2452,232],[2470,232],[2489,235],[2507,238],[2526,232],[2544,220],[2562,205],[2575,200],[2587,208],[2605,217],[2624,217],[2648,220],[2673,223],[2698,226],[2722,229],[2734,217],[2747,208],[2771,208],[2796,211],[2814,208],[2833,220],[2851,220],[2870,222],[2888,226],[2906,229],[2925,232],[2943,220],[2962,199],[2980,187],[2999,182],[3017,187],[3036,194],[3066,205],[3091,208],[3109,205],[3128,193],[3146,181],[3158,184],[3177,199],[3201,217],[3232,229],[3251,224],[3263,211],[3275,193],[3287,187],[3300,193],[3312,202],[3330,205],[3349,205],[3361,199],[3380,202],[3404,208],[3429,211],[3447,208],[3466,199],[3484,196],[3509,202],[3533,205],[3558,211],[3576,214],[3589,235],[3601,229],[3613,205],[3625,172],[3638,156],[3650,169],[3668,202],[3687,220],[3705,214],[3724,196],[3742,199],[3761,205],[3779,211],[3798,205],[3816,193],[3828,166]];

const s13 = [[0,1.34],[20,1.42],[38,1.53],[56,1.68],[75,1.79],[87,1.76],[106,1.68],[130,1.64],[149,1.71],[161,1.76],[173,1.63],[186,1.45],[204,1.34],[222,1.34],[235,1.45],[247,1.68],[259,1.73],[272,1.63],[280,1.40],[292,1.34],[302,1.47],[312,1.68],[327,1.74],[339,1.64],[364,1.66],[382,1.76],[394,1.94],[413,2.10],[425,2.05],[431,1.89],[444,1.87],[460,1.92],[468,1.87],[480,1.81],[489,1.66],[501,1.60],[511,1.71],[523,1.89],[536,1.89],[546,1.79],[560,1.73],[585,1.71],[610,1.71],[634,1.71],[646,1.79],[665,1.79],[677,1.71],[702,1.69],[720,1.71],[739,1.79],[757,1.92],[769,2.0],[782,1.94],[794,1.79],[809,1.74],[825,1.90],[843,1.93],[861,1.86],[880,1.86],[898,1.90],[911,2.02],[923,2.10],[935,1.97],[947,1.63],[960,1.42],[972,1.48],[984,1.76],[997,1.92],[1009,1.84],[1018,1.63],[1030,1.60],[1042,1.79],[1054,1.83],[1070,1.73],[1086,1.60],[1101,1.40],[1113,1.34],[1126,1.40],[1138,1.53],[1150,1.47],[1169,1.37],[1187,1.37],[1206,1.41],[1224,1.40],[1242,1.42],[1261,1.40],[1279,1.32],[1292,1.50],[1310,1.86],[1329,2.11],[1347,2.10],[1365,2.09],[1378,2.02],[1396,2.05],[1414,2.10],[1433,2.11],[1451,1.92],[1464,1.63],[1476,1.42],[1488,1.45],[1497,1.60],[1507,1.63],[1519,1.50],[1534,1.45],[1556,1.47],[1580,1.48],[1605,1.50],[1630,1.48],[1648,1.40],[1660,1.63],[1679,2.05],[1697,2.24],[1716,2.19],[1740,2.17],[1752,2.12],[1771,2.20],[1802,2.21],[1820,2.02],[1832,1.76],[1845,1.69],[1857,1.86],[1869,1.93],[1882,1.86],[1888,1.71],[1900,1.69],[1906,1.84],[1918,1.94],
  [1923,2.07],[1936,2.18],[1948,2.07],[1966,2.05],[1985,2.12],[2003,2.05],[2034,2.03],[2058,2.05],[2071,2.24],[2083,2.05],[2095,1.58],[2108,1.06],[2122,0.67],[2132,0.88],[2151,0.88],[2163,0.76],[2175,0.88],[2191,1.27],[2206,1.50],[2218,1.59],[2240,1.58],[2255,1.45],[2274,1.60],[2292,1.71],[2317,1.66],[2341,1.60],[2360,1.76],[2378,2.05],[2396,2.18],[2415,2.10],[2427,2.16],[2439,2.23],[2452,2.18],[2464,1.97],[2479,1.89],[2501,1.94],[2526,1.92],[2544,1.84],[2562,1.68],[2581,1.68],[2593,1.86],[2605,1.84],[2618,1.68],[2630,1.66],[2648,1.84],[2667,1.81],[2691,1.76],[2710,1.81],[2734,1.79],[2753,1.78],[2771,1.79],[2796,1.81],[2820,1.83],[2845,1.81],[2870,1.84],[2888,1.76],[2906,1.73],[2925,1.63],[2941,1.68],[2956,1.84],[2974,1.66],[2990,1.63],[3005,1.76],[3023,1.80],[3042,1.71],[3060,1.73],[3079,1.76],[3103,1.84],[3122,1.86],[3140,1.88],[3165,1.92],[3195,2.02],[3226,2.09],[3251,2.06],[3269,1.97],[3281,1.86],[3294,1.84],[3310,1.89],[3324,2.02],[3339,1.98],[3351,1.84],[3367,1.81],[3383,1.92],[3398,1.90],[3417,1.86],[3441,1.89],[3453,1.94],[3469,2.02],[3484,2.09],[3509,2.10],[3533,2.14],[3558,2.12],[3583,2.16],[3605,2.20],[3625,2.14],[3644,2.05],[3659,1.94],[3671,1.92],[3683,2.05],[3699,2.06],[3715,1.92],[3727,1.94],[3742,2.06],[3761,2.07],[3779,2.02],[3804,2.05],[3828,2.15]];

const s14 = [[0,18.33],[7,19.14],[20,20.18],[32,20.62],[44,20.70],[54,20.18],[63,19.51],[75,19.47],[87,19.73],[93,19.91],[106,19.88],[118,19.59],[136,19.51],[149,19.88],[161,19.91],[179,19.66],[198,19.51],[216,19.59],[229,19.51],[241,19.21],[253,18.84],[272,18.70],[296,18.62],[308,18.77],[321,19.14],[333,19.21],[339,18.84],[351,18.25],[364,17.88],[376,18.03],[386,18.70],[394,19.07],[407,18.84],[415,18.25],[425,17.84],[435,18.11],[447,18.55],[462,18.22],[480,18.18],[493,17.96],[501,17.81],[517,18.18],[530,18.22],[542,17.96],[554,17.63],[573,18.40],[585,19.29],[597,19.44],[610,19.21],[622,17.88],[634,18.03],[646,18.99],[665,20.03],[677,20.18],[696,19.73],[714,18.55],[732,17.81],[751,17.69],[767,18.25],[782,17.96],[800,17.81],[818,17.99],[831,17.96],[849,17.81],[874,17.88],[886,17.96],[898,17.81],[911,17.73],[923,17.96],[941,18.03],[966,18.11],[978,17.88],[990,17.81],[1003,18.11],[1021,18.47],[1040,18.77],[1058,18.84],[1077,18.70],[1095,18.62],[1107,19.07],[1120,19.51],[1138,19.81],[1163,19.81],[1181,19.51],[1199,19.21],[1218,18.92],[1230,18.70],[1242,19.14],[1255,19.51],[1267,19.51],[1285,19.29],[1298,18.99],[1316,18.70],[1335,18.77],[1347,19.36],[1359,19.36],[1369,18.99],[1381,17.96],[1396,18.84],[1408,19.73],[1421,20.33],[1433,19.88],[1445,19.51],[1464,19.14],[1482,19.07],[1494,19.88],[1509,19.96],[1525,19.14],[1537,18.84],[1550,19.59],[1562,20.47],[1574,20.70],[1587,20.18],[1605,20.33],[1630,20.47],[1648,20.40],[1666,20.36],[1691,20.40],[1716,20.70],[1740,20.92],[1765,21.51],[1777,21.59],[1795,20.99],[1814,20.18],[1832,19.36],[1851,20.18],[1863,20.50],[1875,20.33],[1888,19.59],[1906,19.21],[1922,19.29],
  [1929,19.14],[1948,19.21],[1966,19.59],[1985,19.81],[2009,19.96],[2034,19.88],[2046,20.10],[2065,20.33],[2089,20.62],[2114,20.84],[2138,20.99],[2157,20.84],[2169,20.62],[2181,20.33],[2194,19.66],[2203,19.14],[2216,19.07],[2228,19.81],[2240,19.88],[2255,19.44],[2280,18.99],[2304,18.62],[2329,18.28],[2347,18.47],[2372,18.70],[2396,18.84],[2415,18.81],[2433,19.14],[2452,18.99],[2470,18.73],[2489,18.70],[2501,19.07],[2513,19.07],[2526,18.70],[2538,18.62],[2550,18.84],[2569,19.36],[2587,20.25],[2599,20.70],[2618,20.18],[2630,19.59],[2648,20.77],[2663,20.80],[2679,20.33],[2698,20.47],[2716,20.70],[2734,20.99],[2759,21.21],[2777,21.07],[2796,21.66],[2808,21.51],[2827,20.84],[2845,20.33],[2863,20.70],[2882,20.47],[2894,20.33],[2913,20.03],[2931,19.66],[2950,19.81],[2962,20.77],[2970,20.84],[2986,19.66],[2999,19.59],[3017,20.84],[3036,21.29],[3048,20.92],[3060,20.84],[3079,21.07],[3097,21.36],[3122,21.59],[3140,21.73],[3152,21.66],[3165,22.10],[3177,21.96],[3189,21.36],[3201,20.47],[3214,20.10],[3226,20.62],[3238,20.70],[3251,20.55],[3263,20.33],[3281,20.18],[3294,20.03],[3306,20.47],[3324,21.21],[3337,21.29],[3349,20.70],[3361,20.10],[3373,20.47],[3386,21.07],[3404,21.07],[3417,20.70],[3435,21.07],[3453,21.07],[3466,20.62],[3478,20.25],[3496,20.18],[3515,20.25],[3527,20.47],[3539,20.62],[3558,20.47],[3576,20.40],[3589,20.10],[3601,20.33],[3619,20.25],[3632,20.10],[3644,19.73],[3662,19.96],[3675,20.18],[3687,20.40],[3699,20.62],[3718,20.25],[3730,19.88],[3742,19.73],[3761,19.88],[3779,20.18],[3804,20.47],[3828,20.92]];

const s15 = [[0,62.2],[7,71.9],[26,78.8],[44,80.2],[56,77.4],[69,71.9],[81,70.5],[93,74.7],[112,74.1],[124,71.9],[143,73.3],[167,72.5],[192,71.9],[216,70.5],[229,71.9],[247,78.8],[265,81.6],[278,84],[290,77.4],[302,49.8],[312,38.7],[324,27.6],[339,23.5],[364,21.6],[388,20.7],[413,21.6],[425,20.7],[444,22.1],[462,24.9],[487,24.9],[511,25.4],[536,24.9],[560,23.5],[585,23.5],[610,25.4],[628,26.3],[640,24.9],[659,26.3],[683,26.3],[708,26.3],[726,22.7],[739,18],[757,16.6],[794,17.2],[831,17.2],[868,17.2],[904,17.2],[954,17.2],[1003,17.2],[1052,17.2],[1077,17.2],[1089,13.8],[1107,10.5],[1126,11],[1144,13.8],[1156,11],[1175,12.4],[1193,19.3],[1212,19.9],[1236,19.3],[1273,19.9],[1310,19.9],[1347,20.7],[1371,19.3],[1396,16.6],[1414,13.8],[1439,9.7],[1464,11],[1488,13.3],[1513,13.8],[1525,9.7],[1537,15.2],[1550,23.5],[1562,28.2],[1580,27.1],[1599,27.1],[1617,26.3],[1636,22.1],[1648,19.3],[1660,23.5],[1679,27.1],[1703,27.6],[1728,27.1],[1752,26.3],[1765,26.3],[1783,23.5],[1802,19.3],[1820,15.2],[1839,12.4],[1863,12.4],[1882,13.3],[1900,11.6],[1912,13.8],[1922,18],
  [1929,19.3],[1960,17.9],[1979,19.3],[1997,20.7],[2015,26.3],[2028,24.9],[2040,19.3],[2058,15.2],[2077,11],[2095,16.6],[2108,23.5],[2122,28.2],[2145,24.9],[2169,23.5],[2194,22.7],[2231,23.5],[2267,22.7],[2304,22.7],[2341,23.5],[2360,20.7],[2378,15.2],[2396,8.3],[2415,0],[2430,4.1],[2446,12.4],[2464,17.2],[2486,18],[2498,12.4],[2513,13.8],[2526,19.3],[2544,22.1],[2575,24.3],[2599,25.4],[2618,23.5],[2648,22.7],[2685,23.5],[2722,23.5],[2759,23.5],[2796,23.5],[2833,24.9],[2863,27.6],[2882,26.3],[2894,19.3],[2909,17.2],[2925,23.5],[2950,26.3],[2962,27.6],[2986,26.3],[3017,24.9],[3054,23.5],[3091,24.3],[3128,23.5],[3165,24.3],[3201,24.3],[3232,24.9],[3263,23.5],[3287,25.4],[3312,27.6],[3330,29.9],[3349,27.6],[3367,27.1],[3398,26.3],[3435,25.4],[3472,24.9],[3509,24.3],[3546,24.9],[3583,24.9],[3619,24.9],[3644,26.3],[3668,29],[3693,31.8],[3718,30.4],[3742,27.6],[3761,25.4],[3791,25.4],[3828,27]];

const s16 = [[0,1177],[7,1101],[26,1045],[44,1029],[56,1054],[69,1048],[87,1026],[99,1016],[112,1029],[130,1041],[149,1035],[167,1029],[186,1016],[198,1022],[216,1041],[241,1060],[259,1073],[272,1111],[284,1136],[296,1111],[305,1045],[315,1007],[327,1016],[339,1111],[351,1124],[364,1082],[376,1016],[394,965],[413,940],[431,946],[450,935],[462,912],[480,921],[511,931],[548,916],[585,897],[622,889],[659,889],[683,893],[702,921],[720,931],[732,902],[751,883],[763,969],[782,978],[794,902],[806,864],[816,860],[831,883],[855,902],[874,912],[892,940],[911,927],[929,921],[941,950],[960,959],[972,950],[984,912],[997,940],[1009,997],[1027,1026],[1046,1045],[1064,1016],[1089,997],[1113,1007],[1138,1016],[1156,1035],[1175,1035],[1193,1007],[1212,988],[1230,978],[1249,988],[1273,997],[1298,1007],[1322,1016],[1347,1029],[1371,1041],[1396,1035],[1414,1026],[1427,1007],[1439,978],[1451,988],[1464,1054],[1482,1111],[1501,1092],[1519,1101],[1534,1073],[1550,1016],[1568,1016],[1587,1082],[1605,1101],[1630,1092],[1654,1082],[1673,1092],[1691,1111],[1709,1130],[1728,1149],[1746,1149],[1765,1168],[1777,1177],[1792,1130],[1802,1111],[1814,1158],[1832,1196],[1845,1177],[1857,1082],[1869,1048],[1882,1082],[1894,1234],[1906,1282],[1918,1253],
  [1923,1149],[1936,1139],[1954,1187],[1979,1206],[2003,1212],[2028,1206],[2046,1187],[2065,1215],[2089,1253],[2114,1291],[2138,1314],[2157,1310],[2175,1291],[2188,1253],[2206,1196],[2224,1130],[2237,1101],[2249,1120],[2261,1158],[2274,1158],[2286,1105],[2298,1111],[2317,1177],[2341,1253],[2360,1295],[2378,1310],[2396,1291],[2409,1263],[2427,1257],[2452,1282],[2476,1319],[2501,1348],[2526,1348],[2550,1348],[2581,1352],[2599,1338],[2618,1300],[2636,1276],[2655,1282],[2673,1300],[2691,1314],[2710,1291],[2728,1272],[2741,1215],[2753,1187],[2765,1206],[2777,1263],[2790,1282],[2808,1253],[2827,1282],[2845,1329],[2863,1395],[2882,1420],[2900,1395],[2919,1376],[2937,1357],[2956,1329],[2968,1333],[2986,1376],[3005,1401],[3023,1414],[3048,1405],[3072,1386],[3097,1367],[3122,1338],[3140,1300],[3152,1329],[3165,1376],[3183,1395],[3195,1357],[3208,1367],[3220,1386],[3238,1395],[3257,1376],[3275,1348],[3287,1319],[3306,1367],[3324,1414],[3343,1430],[3355,1430],[3367,1414],[3386,1386],[3404,1367],[3423,1357],[3447,1348],[3472,1338],[3496,1319],[3515,1338],[3533,1367],[3558,1395],[3583,1414],[3607,1424],[3632,1414],[3656,1405],[3675,1386],[3687,1282],[3699,1291],[3711,1386],[3724,1420],[3736,1386],[3748,1357],[3767,1395],[3798,1414],[3828,1428]];

const series = [s1, s2, s3, s4, s5, s6, s7, s8, s9, s10, s11, s12, s13, s14, s15, s16];
const panelNames = ['1','2','3','4','5','6','7','8','9','10','11','12','13','14','15','16'];

// y range of each panel (tight limits) and its ticks; only some ticks carry a label
const yDomains = [[32,125],[1220,4150],[461,1896],[82,171.4],[56.6,105.7],[1996,3240],[828,1402],[40.8,87.5],
                  [48.3,114.2],[0.24,2.2],[13.5,33.5],[155,338],[0.66,2.25],[17.59,22.12],[-0.85,83.8],[860,1435]];
const yTicks = [[50,100],[2000,3000,4000],[500,1000,1500],[85,100,115,130,145,160],[60,80,100],[2000,2500,3000],[1000,1200,1400],[60,80],
                [50,100],[1,2],[20,30],[200,250,300],[1,1.5,2],[18,19,20,21,22],[0,20,40,60,80],[1000,1200,1400]];
const yLabels = [[50,100],[2000,3000],[1000,1500],[100,160],[80],[2500,3000],[1000,1200],[60],
                 [100],[1],[20],[200,250,300],[1,1.5],[18,22],[20,40,60],[1000,1200]];

const xTicks = [500, 1000, 1500, 2000, 2500, 3000, 3500];
const xTitle = 'Time (day)';

const W = 3797, H = 2057;
const left = 145, right = 3760;
const top0 = 51, pitch = 115.9, panelH = 102;
const bottom = top0 + 15 * pitch + panelH;

const lineColor = '#1590d4';
const axisColor = '#4d4d4d';

const svg = d3.select('#chart').attr('width', W).attr('height', H)
  .style('font-family', '"Liberation Sans", Arial, Helvetica, sans-serif');
svg.append('rect').attr('width', W).attr('height', H).attr('fill', '#fff');

const x = d3.scaleLinear().domain([0, 3828]).range([left, right]);

series.forEach((data, i) => {
  const y0 = top0 + i * pitch;
  const y = d3.scaleLinear().domain(yDomains[i]).range([y0 + panelH, y0]);
  const g = svg.append('g').attr('class', 'panel');

  const labelled = new Set(yLabels[i]);
  const axis = d3.axisLeft(y)
    .tickValues(yTicks[i])
    .tickSizeInner(-37)
    .tickSizeOuter(0)
    .tickPadding(8)
    .tickFormat(d => labelled.has(d) ? d3.format('~g')(d) : '');

  const ax = g.append('g').attr('transform', `translate(${left},0)`).call(axis);
  ax.select('.domain').attr('stroke', axisColor).attr('stroke-width', 3);
  ax.selectAll('.tick line').attr('stroke', axisColor).attr('stroke-width', 3);
  ax.selectAll('.tick text').attr('fill', '#222').style('font-size', '32px');

  // panel number sits left of its widest tick label
  let maxW = 0;
  ax.selectAll('.tick text').each(function () {
    maxW = Math.max(maxW, this.getComputedTextLength());
  });
  g.append('text')
    .attr('x', left - 8 - maxW - 8)
    .attr('y', y0 + panelH / 2)
    .attr('dy', '0.35em')
    .attr('text-anchor', 'end')
    .attr('fill', '#222')
    .style('font-size', '32px')
    .text(panelNames[i]);

  const sorted = data.slice().sort((a, b) => a[0] - b[0]);
  const line = d3.line()
    .x(d => x(d[0]))
    .y(d => y(d[1]))
    .curve(d3.curveMonotoneX);

  g.append('path')
    .datum(sorted)
    .attr('d', line)
    .attr('fill', 'none')
    .attr('stroke', lineColor)
    .attr('stroke-width', 3)
    .attr('stroke-linejoin', 'round');
});

// shared time axis
const xAxis = d3.axisBottom(x)
  .tickValues(xTicks)
  .tickSizeInner(-38)
  .tickSizeOuter(0)
  .tickPadding(24)
  .tickFormat(d3.format('d'));

const xa = svg.append('g').attr('transform', `translate(0,${bottom})`).call(xAxis);
xa.select('.domain').attr('stroke', '#6b6b6b').attr('stroke-width', 4);
xa.selectAll('.tick line').attr('stroke', axisColor).attr('stroke-width', 2);
xa.selectAll('.tick text').attr('fill', '#222').style('font-size', '32px');

svg.append('text')
  .attr('x', 1996)
  .attr('y', 2020)
  .attr('text-anchor', 'middle')
  .attr('fill', '#111')
  .style('font-family', '"Liberation Serif", "Times New Roman", serif')
  .style('font-size', '52px')
  .text(xTitle);
</script>
</body>
</html>
